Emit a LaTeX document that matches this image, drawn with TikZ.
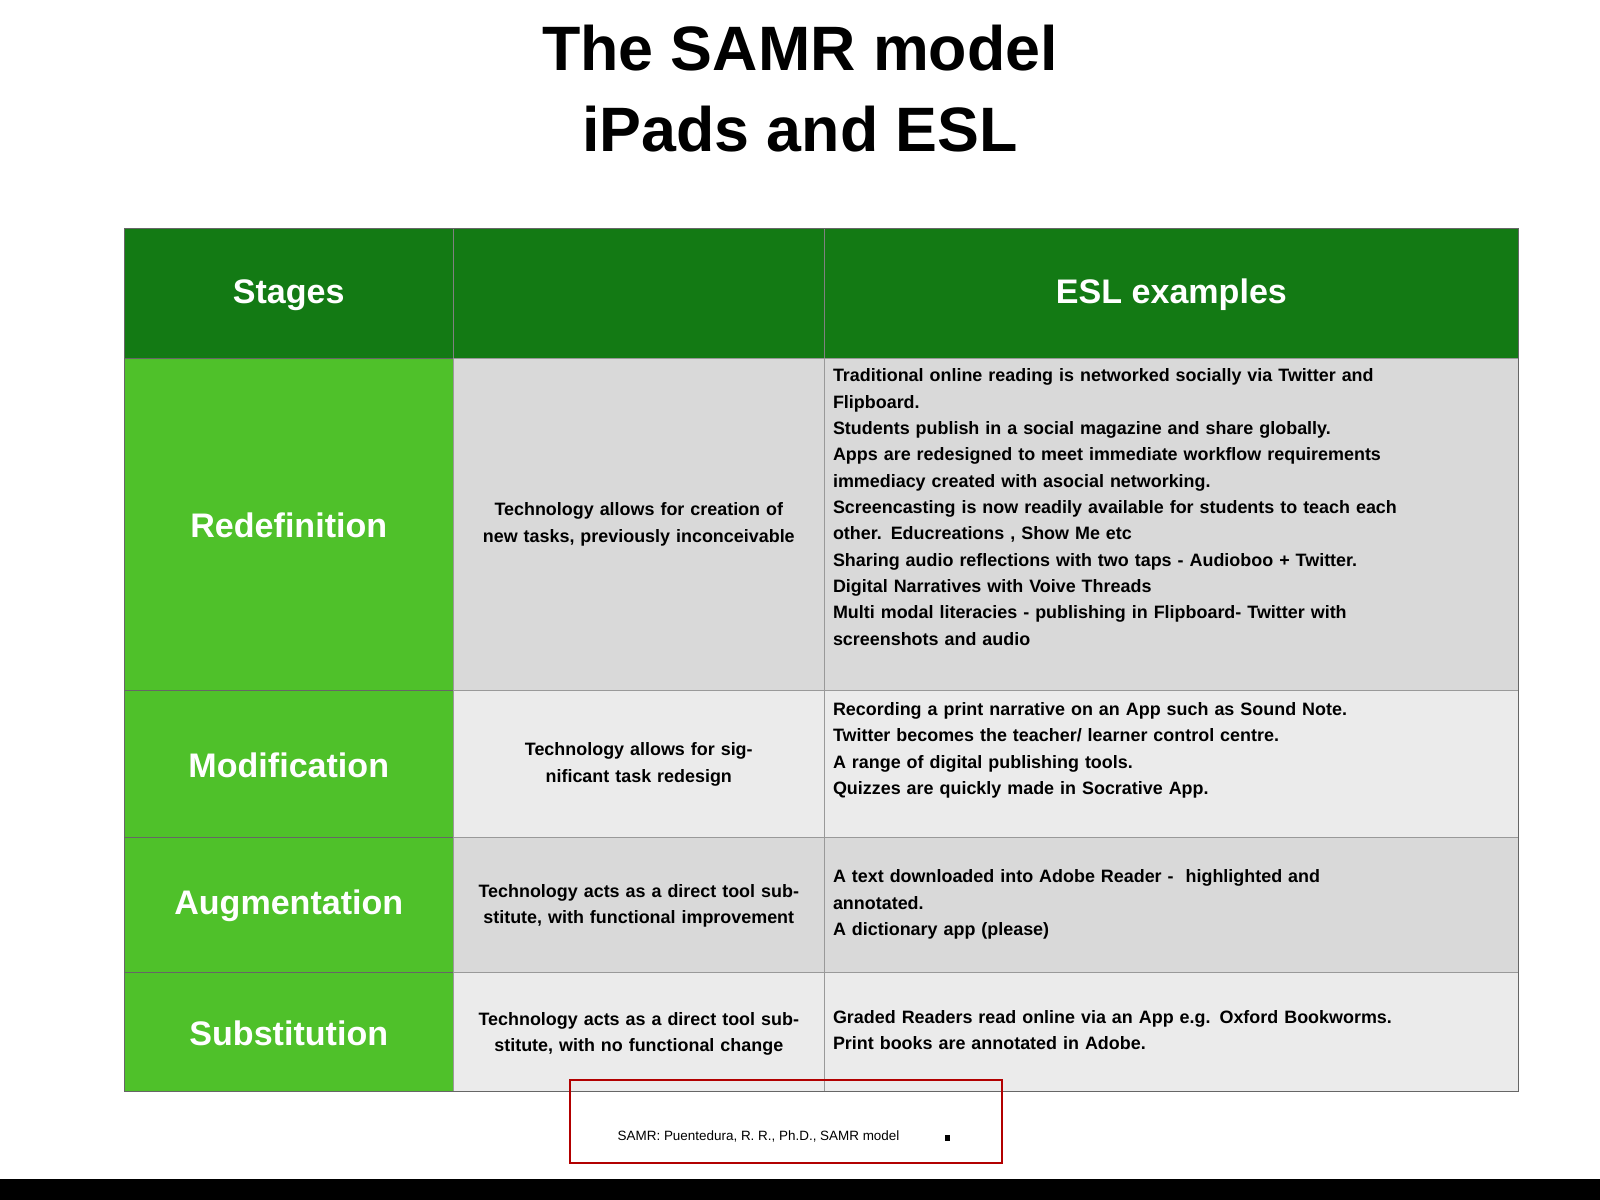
\documentclass[tikz,border=0pt]{standalone}
\usepackage{fontspec}
\setmainfont{Liberation Sans}
\begin{document}
\begin{tikzpicture}[x=0.02cm,y=-0.02cm,
 hd/.style={fill=hdgreen,draw=black!60,line width=0.5pt},
 st/.style={fill=stgreen,draw=black!60,line width=0.5pt},
 g1/.style={fill=black!15,draw=black!40,line width=0.5pt},
 g2/.style={fill=black!8,draw=black!40,line width=0.5pt},
 big/.style={font=\fontsize{19}{23}\selectfont\bfseries,text=white},
 mid/.style={font=\fontsize{10}{14.7}\selectfont\bfseries,align=center,text width=6.9cm},
 ex/.style={font=\fontsize{10}{14.7}\selectfont\bfseries,align=left,text width=13.6cm,anchor=north west,inner sep=0pt}]
\definecolor{hdgreen}{HTML}{137A14}
\definecolor{stgreen}{HTML}{4FC12A}
\useasboundingbox (0,0) rectangle (1568,1176);
\fill[black] (0,1155) rectangle (1568,1176);
\node[font=\fontsize{35}{45}\selectfont\bfseries,align=center] (title) at (784,87) {The SAMR model\\iPads and ESL};
% header
\fill[hd] (122,224) rectangle (1488,351);
\draw[black!50] (444,224) -- (444,351) (808,224) -- (808,351);
\node[big] (h1) at (283,289) {Stages};
\node[big] (h3) at (1148,289) {ESL examples};
% rows
\foreach \a/\b/\s in {351/677/g1,677/821/g2,821/953/g1,953/1070/g2}{
 \fill[st] (122,\a) rectangle (444,\b);
 \fill[\s] (444,\a) rectangle (808,\b);
 \fill[\s] (808,\a) rectangle (1488,\b);
}
\draw[black!60,line width=0.6pt] (122,224) rectangle (1488,1070);
\node[big] (s1) at (283,515) {Redefinition};
\node[big] (s2) at (283,750) {Modification};
\node[big] (s3) at (283,888) {Augmentation};
\node[big] (s4) at (283,1013) {Substitution};
\node[mid] (m1) at (626,514) {Technology allows for creation of new tasks, previously inconceivable};
\node[mid] (m2) at (626,749) {Technology allows for significant task redesign};
\node[mid] (m3) at (626,888) {Technology acts as a direct tool substitute, with functional improvement};
\node[mid] (m4) at (626,1013) {Technology acts as a direct tool substitute, with no functional change};
\node[ex] (e1) at (816,361) {Traditional online reading is networked socially via Twitter and\\Flipboard.\\Students publish in a social magazine and share globally.\\Apps are redesigned to meet immediate workflow requirements\\immediacy created with asocial networking.\\Screencasting is now readily available for students to teach each\\other. Educreations , Show Me etc\\Sharing audio reflections with two taps - Audioboo + Twitter.\\Digital Narratives with Voive Threads\\Multi modal literacies - publishing in Flipboard- Twitter with\\screenshots and audio};
\node[ex] (e2) at (816,688) {Recording a print narrative on an App such as Sound Note.\\Twitter becomes the teacher/ learner control centre.\\A range of digital publishing tools.\\Quizzes are quickly made in Socrative App.};
\node[ex] (e3) at (816,852) {A text downloaded into Adobe Reader -\ \ highlighted and\\annotated.\\A dictionary app (please)};
\node[ex] (e4) at (816,990) {Graded Readers read online via an App e.g. Oxford Bookworms.\\Print books are annotated in Adobe.};
% footer
\draw[red!70!black,line width=1.2pt] (559,1058) rectangle (982,1140);
\node[font=\fontsize{7.5}{9}\selectfont,anchor=west,inner sep=0pt] (f) at (605,1114) {SAMR: Puentedura, R. R., Ph.D., SAMR model};
\fill[black] (926,1112) rectangle (931,1118);
\end{tikzpicture}
\end{document}
